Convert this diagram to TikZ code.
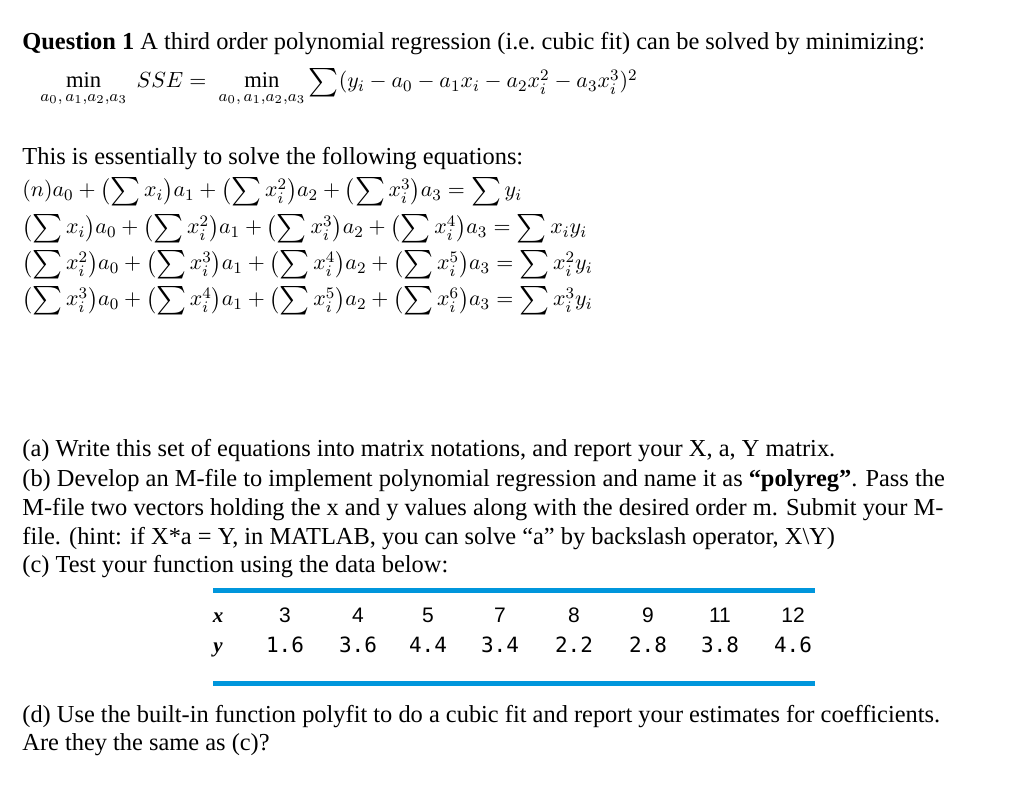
\documentclass[tikz,border=0pt]{standalone}
\usepackage{amsmath}
\usepackage{fontspec}
\setmainfont{Liberation Serif}
\setsansfont{Liberation Sans}
\setmonofont{DejaVu Sans Mono}
\usetikzlibrary{calc}
\definecolor{tblue}{RGB}{0,150,220}
\newcommand\bsum{\mathop{\vcenter{\hbox{\scalebox{1.3}{$\sum$}}}}\nolimits}
\tikzset{txt/.style={anchor=base west,inner sep=0pt,font=\fontsize{12.2}{14}\selectfont},
         eqn/.style={anchor=base west,inner sep=0pt,font=\fontsize{11.3}{13}\selectfont},
         cell/.style={anchor=base,inner sep=0pt,font=\ttfamily\fontsize{10.5}{12}\selectfont}}
\begin{document}
\begin{tikzpicture}[x=0.5pt,y=-0.5pt]
  \useasboundingbox (0,0) rectangle (1024,797);
  % heading and objective
  \node[txt] (q1) at (22,50) {\textbf{Question 1} A third order polynomial regression (i.e.\ cubic fit) can be solved by minimizing:};
  \node[eqn] (sse) at (40,88) {$\min\limits_{a_0,\,a_1,a_2,a_3} \;SSE = \;\min\limits_{a_0,\,a_1,a_2,a_3}\bsum (y_i - a_0 - a_1x_i - a_2x_i^2 - a_3x_i^3)^2$};
  \node[txt] (ess) at (22,165) {This is essentially to solve the following equations:};
  % normal equations
  \node[eqn] (r1) at (22,197) {$(n)a_0 + \bigl(\bsum x_i\bigr)a_1 + \bigl(\bsum x_i^2\bigr)a_2 + \bigl(\bsum x_i^3\bigr)a_3 = \bsum y_i$};
  \node[eqn] (r2) at (22,234) {$\bigl(\bsum x_i\bigr)a_0 + \bigl(\bsum x_i^2\bigr)a_1 + \bigl(\bsum x_i^3\bigr)a_2 + \bigl(\bsum x_i^4\bigr)a_3 = \bsum x_iy_i$};
  \node[eqn] (r3) at (22,270) {$\bigl(\bsum x_i^2\bigr)a_0 + \bigl(\bsum x_i^3\bigr)a_1 + \bigl(\bsum x_i^4\bigr)a_2 + \bigl(\bsum x_i^5\bigr)a_3 = \bsum x_i^2y_i$};
  \node[eqn] (r4) at (22,306) {$\bigl(\bsum x_i^3\bigr)a_0 + \bigl(\bsum x_i^4\bigr)a_1 + \bigl(\bsum x_i^5\bigr)a_2 + \bigl(\bsum x_i^6\bigr)a_3 = \bsum x_i^3y_i$};
  % tasks
  \node[txt] (pa) at (22,456) {(a) Write this set of equations into matrix notations, and report your X, a, Y matrix.};
  \node[txt] (pb1) at (22,486) {(b) Develop an M-file to implement polynomial regression and name it as \textbf{“polyreg”}. Pass the};
  \node[txt] (pb2) at (22,515) {M-file two vectors holding the x and y values along with the desired order m. Submit your M-};
  \node[txt] (pb3) at (22,544) {file. (hint: if X*a = Y, in MATLAB, you can solve “a” by backslash operator, X\textbackslash Y)};
  \node[txt] (pc) at (22,572) {(c) Test your function using the data below:};
  % data table
  \draw[tblue,line width=2.5pt] (213,590) -- (815,590);
  \draw[tblue,line width=2.5pt] (213,683) -- (815,683);
  \node[cell,font=\rmfamily\bfseries\itshape\fontsize{10.5}{12}\selectfont] (xl) at (218,622) {x};
  \node[cell,font=\rmfamily\bfseries\itshape\fontsize{10.5}{12}\selectfont] (yl) at (218,652) {y};
  \foreach \cx/\vx/\vy [count=\k] in {285/3/1.6,358/4/3.6,428/5/4.4,500/7/3.4,574/8/2.2,648/9/2.8,720/11/3.8,793/12/4.6}{
    \node[cell,font=\sffamily\fontsize{10.5}{12}\selectfont] (x\k) at (\cx,622) {\vx};
    \node[cell] (y\k) at (\cx,652) {\vy};
  }
  \node[txt] (pd1) at (22,722) {(d) Use the built-in function polyfit to do a cubic fit and report your estimates for coefficients.};
  \node[txt] (pd2) at (22,750) {Are they the same as (c)?};
\end{tikzpicture}
\end{document}
